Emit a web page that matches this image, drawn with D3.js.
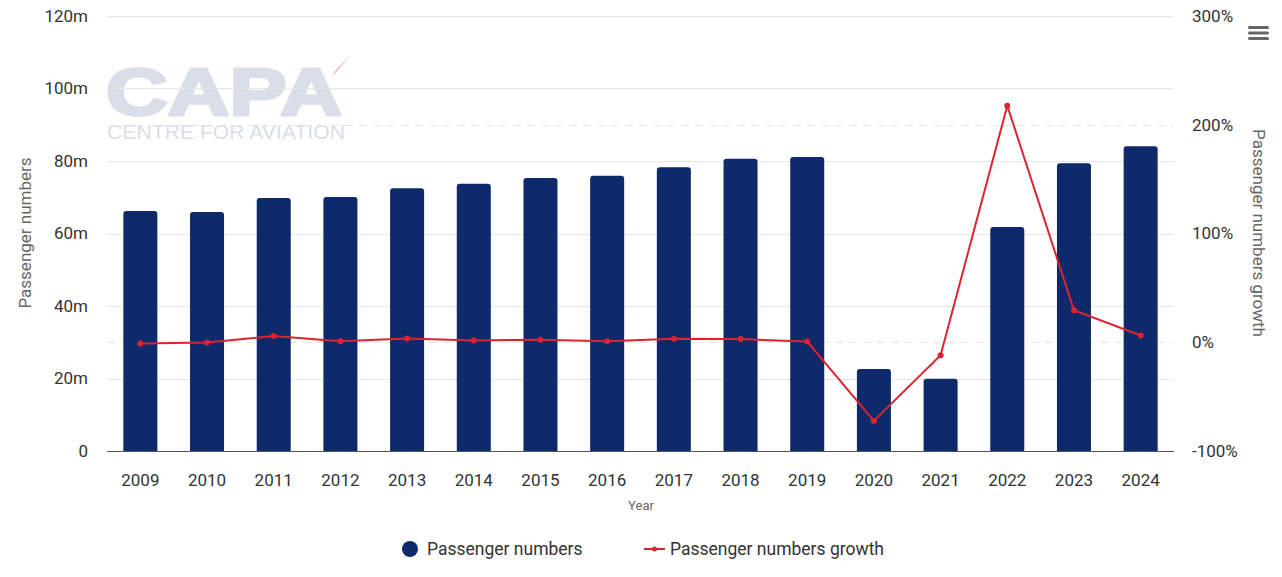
<!DOCTYPE html>
<html>
<head>
<meta charset="utf-8">
<script src="https://cdn.jsdelivr.net/npm/d3@7"></script>
<style>
  body { margin: 0; background: #fff; }
  svg { font-family: Roboto, "Noto Sans", sans-serif; }
</style>
</head>
<body>
<svg id="chart" width="1282" height="577"></svg>
<script>
var years = ["2009","2010","2011","2012","2013","2014","2015","2016","2017","2018","2019","2020","2021","2022","2023","2024"];
var passengers = [66.2, 65.9, 69.8, 70.1, 72.5, 73.7, 75.3, 75.9, 78.3, 80.6, 81.1, 22.6, 19.9, 61.8, 79.4, 84.1];
var growth = [-1.2, -0.3, 5.8, 1.0, 3.5, 1.7, 2.2, 0.9, 3.2, 2.9, 0.6, -72.3, -12.0, 217.5, 29.4, 6.2];
var leftTicks = [0, 20, 40, 60, 80, 100, 120];
var rightTicks = [-100, 0, 100, 200, 300];

var barColor = "#0e2a6a", lineColor = "#dc2430";
var svg = d3.select("#chart");
var plotL = 107, plotR = 1174, plotT = 16, plotB = 451;

var x = d3.scaleBand().domain(years).range([plotL, plotR]).paddingInner(0.49).paddingOuter(0.245);
var y = d3.scaleLinear().domain([0, 120]).range([plotB, plotT]);
var y2 = d3.scaleLinear().domain([-100, 300]).range([plotB, plotT]);

// watermark
var logo = svg.append("g").attr("opacity", 0.85);
logo.append("text").attr("x", 106).attr("y", 115)
  .attr("font-family", "'Liberation Sans', Arial, sans-serif").attr("font-weight", "bold")
  .attr("font-size", 66).attr("textLength", 236).attr("lengthAdjust", "spacingAndGlyphs")
  .attr("fill", "#d3d9e5").attr("stroke", "#d3d9e5").attr("stroke-width", 3).attr("stroke-linejoin", "round")
  .text("CAPA");
logo.append("text").attr("x", 107).attr("y", 139)
  .attr("font-family", "'Liberation Sans', Arial, sans-serif")
  .attr("font-size", 21).attr("textLength", 238).attr("lengthAdjust", "spacingAndGlyphs")
  .attr("fill", "#d3d9e5").text("CENTRE FOR AVIATION");
logo.append("path").attr("d", "M331,78 L351,55 L336,70 Z").attr("fill", "#f4a3a3");

// left grid
svg.append("g").selectAll("line").data(leftTicks.slice(1)).join("line")
  .attr("x1", plotL).attr("x2", plotR)
  .attr("y1", function(d){ return Math.round(y(d)) + 0.5; })
  .attr("y2", function(d){ return Math.round(y(d)) + 0.5; })
  .attr("stroke", "#e6e6e6").attr("stroke-width", 1);
// right grid (dashed)
svg.append("g").selectAll("line").data(rightTicks.slice(1)).join("line")
  .attr("x1", plotL).attr("x2", plotR)
  .attr("y1", function(d){ return Math.round(y2(d)) + 0.5; })
  .attr("y2", function(d){ return Math.round(y2(d)) + 0.5; })
  .attr("stroke", "#e6e6e6").attr("stroke-width", 1).attr("stroke-dasharray", "8,6");

// bars
var bw = x.bandwidth(), r = 3;
svg.append("g").selectAll("path").data(passengers).join("path")
  .attr("fill", barColor)
  .attr("d", function(d, i){
    var x0 = x(years[i]), y0 = y(d), yb = y(0);
    return "M" + x0 + "," + yb + "V" + (y0 + r) + "Q" + x0 + "," + y0 + " " + (x0 + r) + "," + y0 +
      "H" + (x0 + bw - r) + "Q" + (x0 + bw) + "," + y0 + " " + (x0 + bw) + "," + (y0 + r) + "V" + yb + "Z";
  });

// baseline
svg.append("line").attr("x1", plotL).attr("x2", plotR).attr("y1", plotB + 0.5).attr("y2", plotB + 0.5)
  .attr("stroke", "#555").attr("stroke-width", 1.2);

// growth line
var line = d3.line().x(function(d, i){ return x(years[i]) + bw / 2; }).y(function(d){ return y2(d); });
svg.append("path").datum(growth).attr("d", line).attr("fill", "none")
  .attr("stroke", lineColor).attr("stroke-width", 2);
svg.append("g").selectAll("circle").data(growth).join("circle")
  .attr("cx", function(d, i){ return x(years[i]) + bw / 2; })
  .attr("cy", function(d){ return y2(d); }).attr("r", 3).attr("fill", lineColor);

// axes
var fmtL = function(d){ return d === 0 ? "0" : d + "m"; };
var gl = svg.append("g").attr("transform", "translate(" + plotL + ",0)")
  .call(d3.axisLeft(y).tickValues(leftTicks).tickFormat(fmtL).tickSize(0).tickPadding(19));
var gr = svg.append("g").attr("transform", "translate(" + plotR + ",0)")
  .call(d3.axisRight(y2).tickValues(rightTicks).tickFormat(function(d){ return d + "%"; }).tickSize(0).tickPadding(18));
var gx = svg.append("g").attr("transform", "translate(0," + plotB + ")")
  .call(d3.axisBottom(x).tickSize(0).tickPadding(23));
[gl, gr, gx].forEach(function(g){
  g.select(".domain").remove();
  g.selectAll("text").attr("font-family", "Roboto, sans-serif").attr("font-size", 17).attr("fill", "#333");
});

// axis titles
svg.append("text").attr("transform", "translate(31,233) rotate(-90)").attr("text-anchor", "middle")
  .attr("font-size", 17).attr("fill", "#666").text("Passenger numbers");
svg.append("text").attr("transform", "translate(1253,233) rotate(90)").attr("text-anchor", "middle")
  .attr("font-size", 17).attr("fill", "#666").text("Passenger numbers growth");
svg.append("text").attr("x", 641).attr("y", 510).attr("text-anchor", "middle")
  .attr("font-size", 13).attr("fill", "#666").text("Year");

// legend
var lg = svg.append("g");
lg.append("circle").attr("cx", 410).attr("cy", 549).attr("r", 8).attr("fill", barColor);
lg.append("text").attr("x", 427).attr("y", 555).attr("font-size", 17.5).attr("fill", "#333").text("Passenger numbers");
lg.append("line").attr("x1", 644).attr("x2", 665).attr("y1", 549).attr("y2", 549).attr("stroke", lineColor).attr("stroke-width", 2);
lg.append("circle").attr("cx", 654.5).attr("cy", 549).attr("r", 2.5).attr("fill", lineColor);
lg.append("text").attr("x", 670).attr("y", 555).attr("font-size", 17.5).attr("fill", "#333").text("Passenger numbers growth");

// menu icon
svg.append("g").selectAll("rect").data([0, 1, 2]).join("rect")
  .attr("x", 1248).attr("y", function(d){ return 26 + d * 5.5; }).attr("width", 21).attr("height", 3).attr("rx", 1.5)
  .attr("fill", "#666");
</script>
</body>
</html>
